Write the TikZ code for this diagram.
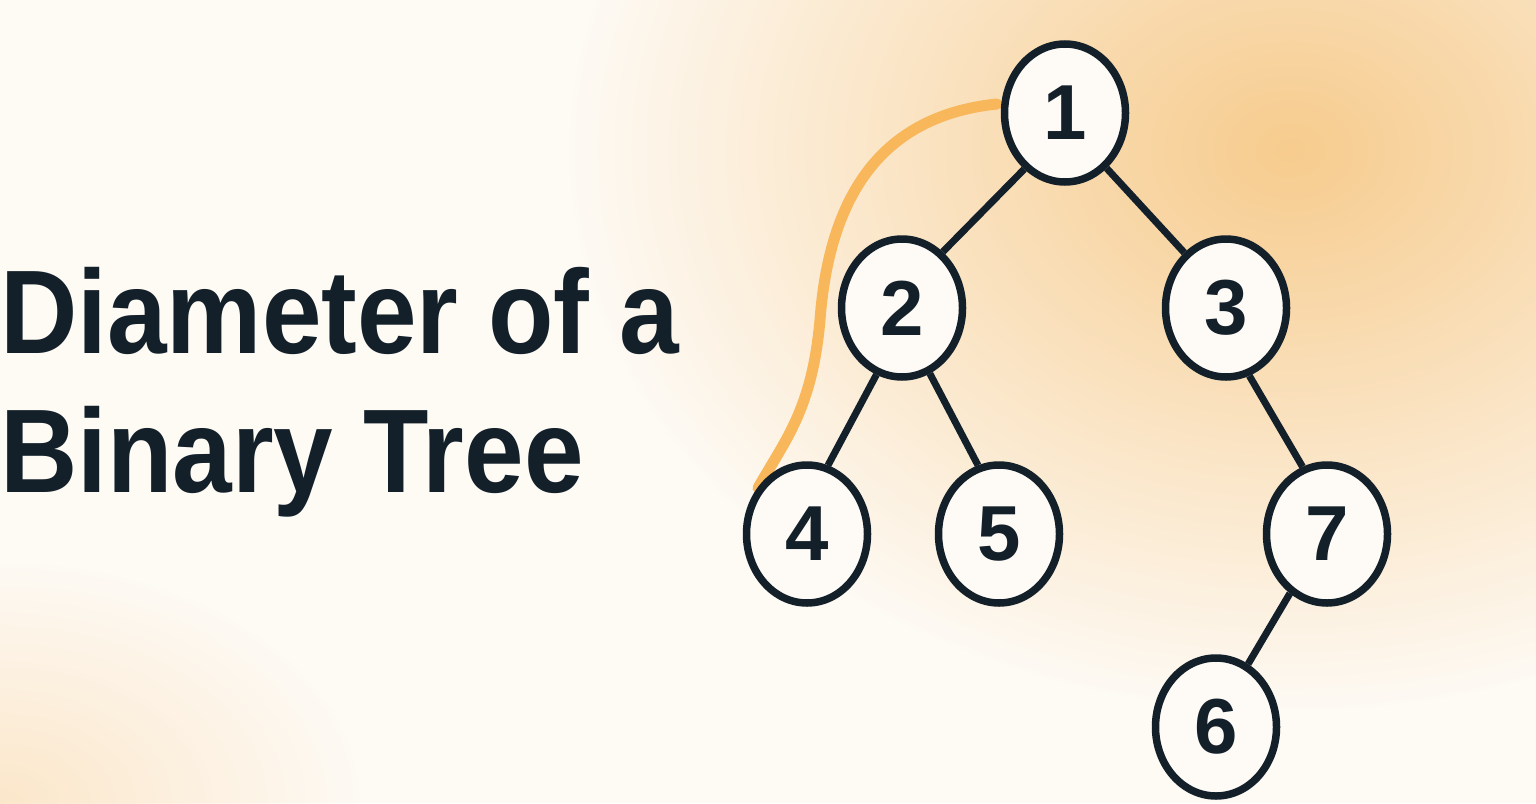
\documentclass[tikz,border=0pt]{standalone}
\usepackage{fontspec}
\setmainfont{Liberation Sans}
\usetikzlibrary{shapes.geometric,fadings}
\definecolor{ink}{HTML}{13202A}
\definecolor{bgbase}{HTML}{FEFAF4}
\definecolor{glowc}{HTML}{F7CC8E}
\definecolor{glowb}{HTML}{FBE2C0}
\definecolor{pathc}{HTML}{F8B75A}
\definecolor{nodefill}{HTML}{FEFAF5}
\tikzfading[name=softglow, inner color=transparent!0, outer color=transparent!100]
\begin{document}
\begin{tikzpicture}[x=1pt,y=-1pt,
  treenode/.style={ellipse, draw=ink, fill=nodefill, line width=7.5pt,
    minimum width=121pt, minimum height=138pt, inner sep=0pt,
    font=\fontsize{78}{80}\selectfont\bfseries, text=ink},
  edge/.style={draw=ink, line width=7pt},
  diam/.style={draw=pathc, line width=11pt, line cap=round},
  titletext/.style={anchor=base west, inner sep=0pt, text=ink,
    font=\fontsize{119}{130}\selectfont\bfseries}]
\useasboundingbox (0,0) rectangle (1536,803);
\fill[bgbase] (0,0) rectangle (1536,803);
\fill[glowc, path fading=softglow] (1290,150) ellipse (720 and 560);
\fill[glowb, path fading=softglow, opacity=0.8] (0,803) ellipse (360 and 240);

\node[titletext] (t1) at (0,353) {\scalebox{0.9}[1]{Diameter of a}};
\node[titletext] (t2) at (0,492) {\scalebox{0.9}[1]{Binary Tree}};

\coordinate (c1) at (997,104);
\coordinate (c4) at (758,488);
\draw[diam] (c1) .. controls (890,115) and (830,185) .. (820,320)
  .. controls (812,410) and (785,440) .. (c4);

\node[treenode] (n1) at (1065,113) {1};
\node[treenode] (n2) at (902,308) {2};
\node[treenode] (n3) at (1226,308) {3};
\node[treenode] (n4) at (807,534) {4};
\node[treenode] (n5) at (999,534) {5};
\node[treenode] (n7) at (1327,534) {7};
\node[treenode] (n6) at (1216,727) {6};

\draw[edge] (n1.234) -- (n2.54);
\draw[edge] (n1.307) -- (n3.127);
\draw[edge] (n2.249) -- (n4.73);
\draw[edge] (n2.293) -- (n5.107);
\draw[edge] (n3.289) -- (n7.110);
\draw[edge] (n7.238) -- (n6.63);
\end{tikzpicture}
\end{document}
